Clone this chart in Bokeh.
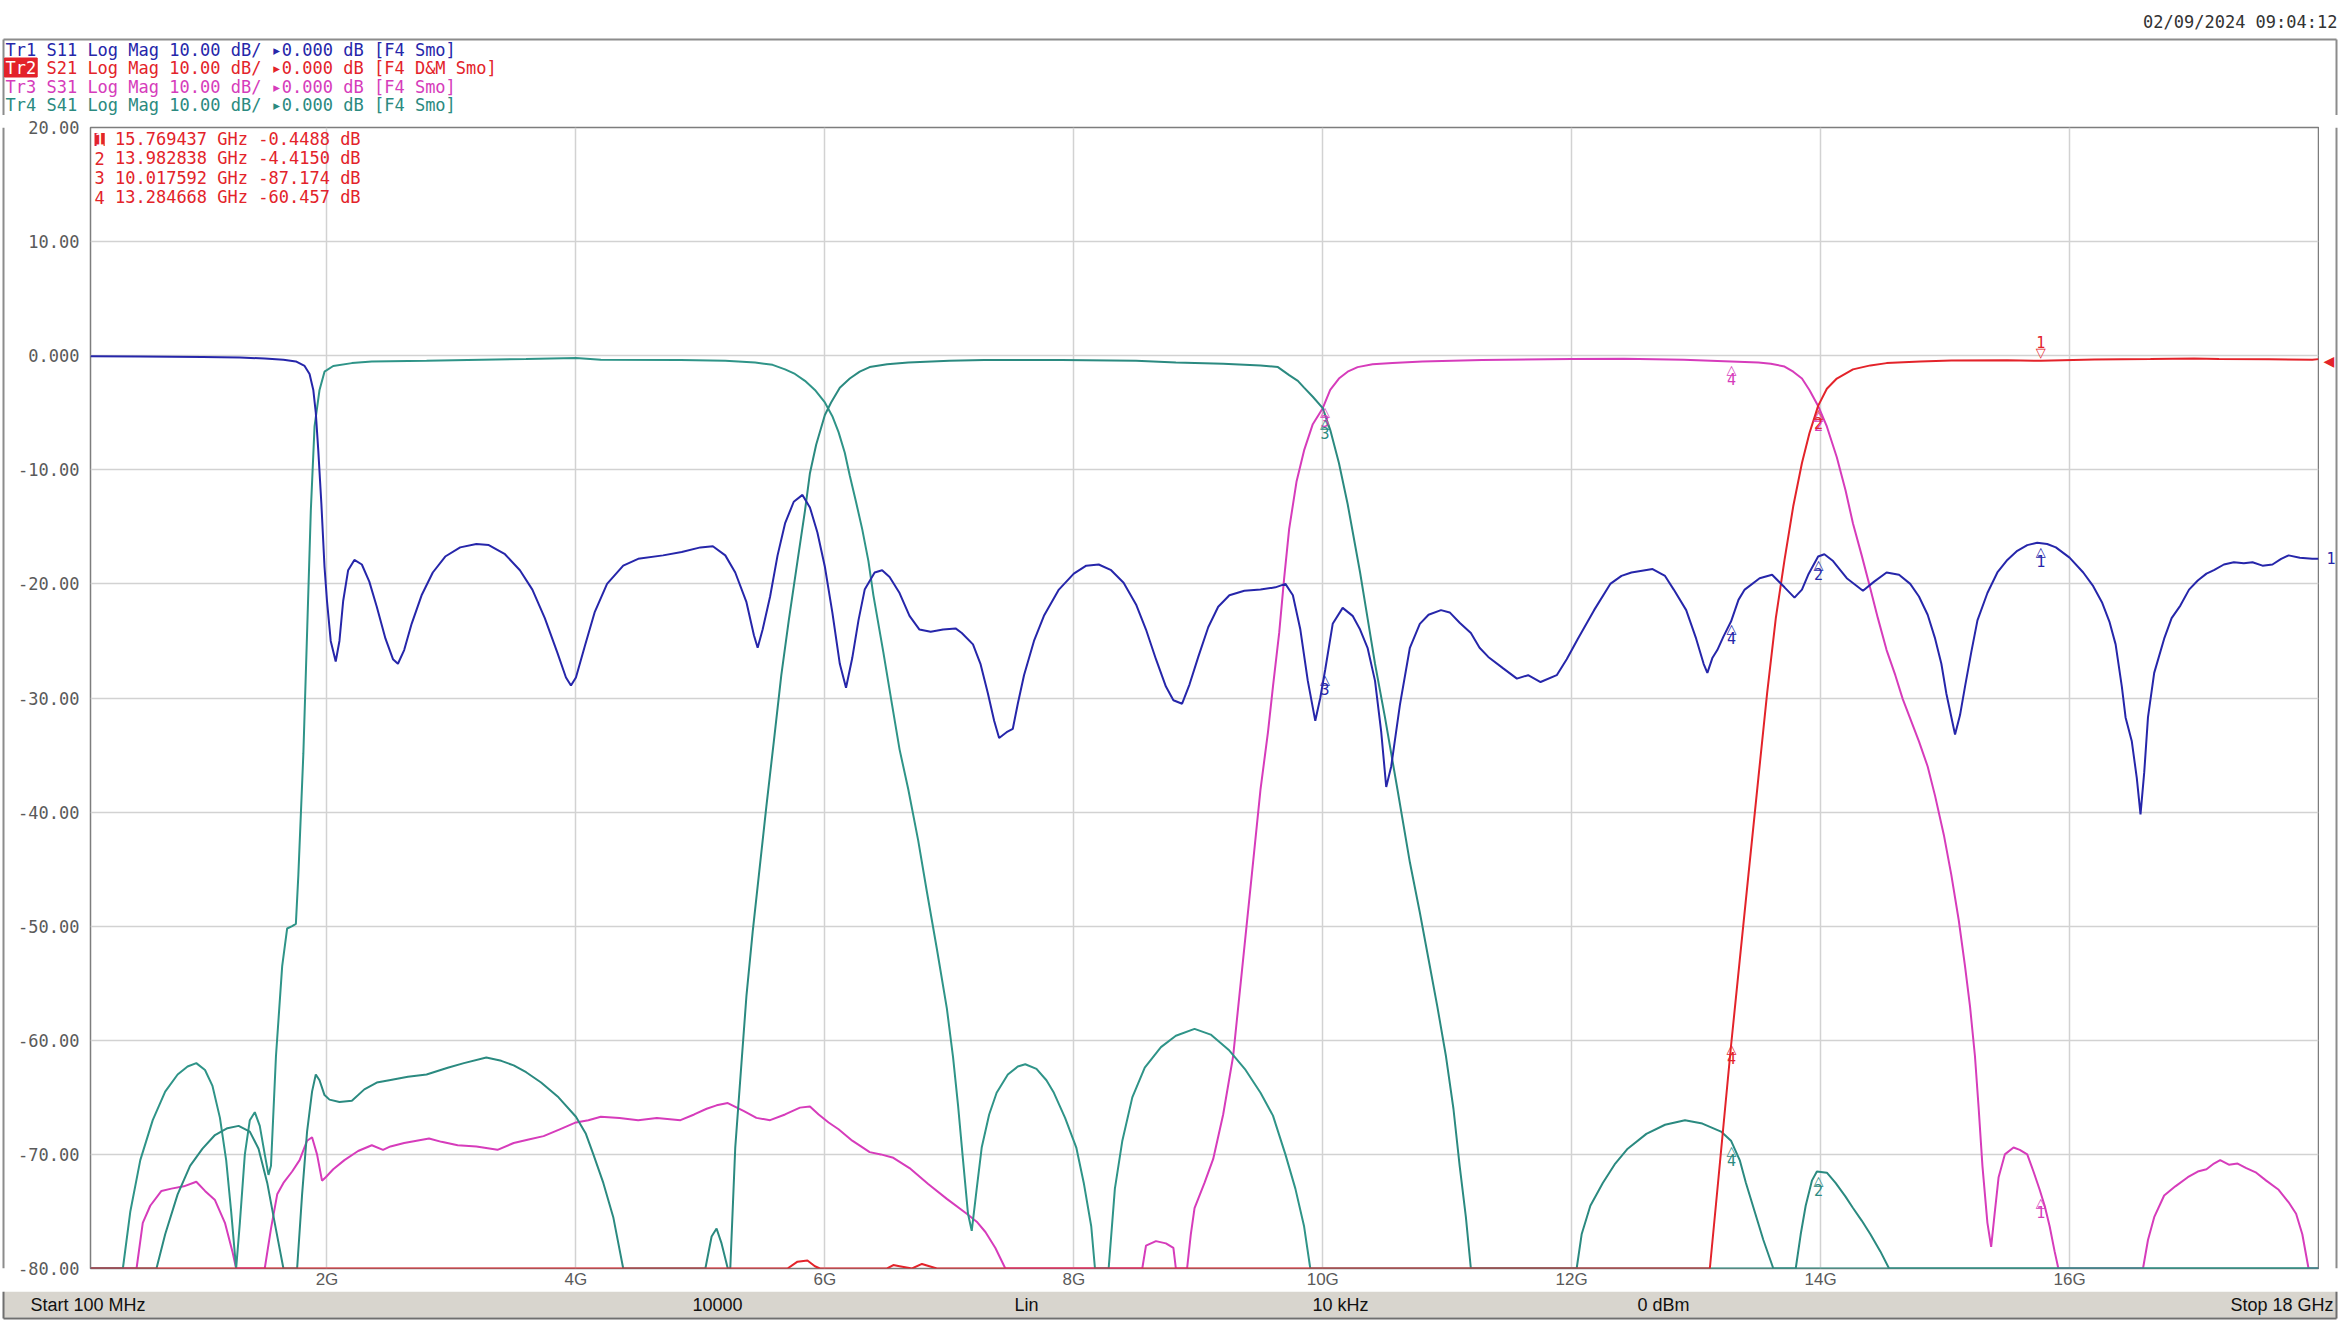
import numpy as np
from bokeh.plotting import figure
from bokeh.layouts import column, row
from bokeh.models import Label, FixedTicker, Range1d
from bokeh.core.properties import value
from bokeh.embed import file_html
from bokeh.resources import INLINE

# ---------------- data (GHz, dB) ----------------
S11 = [(0.10,-0.05),(0.50,-0.08),(1.00,-0.12),(1.30,-0.15),(1.50,-0.25),(1.65,-0.35),(1.75,-0.5),(1.82,-0.9),
       (1.86,-1.6),(1.89,-3.0),(1.91,-5.0),(1.93,-8.3),(1.955,-13.0),(1.98,-18.5),(2.00,-21.5),(2.03,-25.0),
       (2.07,-26.8),(2.10,-25.0),(2.13,-21.5),(2.17,-18.8),(2.22,-17.9),(2.28,-18.3),(2.34,-19.8),(2.40,-22.0),
       (2.47,-24.8),(2.53,-26.6),(2.57,-27.0),(2.62,-25.8),(2.68,-23.5),(2.76,-21.0),(2.85,-19.0),(2.95,-17.6),
       (3.07,-16.8),(3.20,-16.5),(3.30,-16.6),(3.43,-17.4),(3.55,-18.8),(3.65,-20.5),(3.75,-23.0),(3.85,-26.0),
       (3.92,-28.2),(3.96,-28.9),(4.00,-28.2),(4.07,-25.5),(4.15,-22.5),(4.25,-20.0),(4.38,-18.4),(4.50,-17.8),
       (4.70,-17.5),(4.85,-17.2),(5.00,-16.8),(5.10,-16.7),(5.20,-17.5),(5.28,-19.0),(5.37,-21.6),(5.43,-24.5),
       (5.46,-25.6),(5.50,-24.0),(5.56,-21.1),(5.62,-17.5),(5.68,-14.7),(5.75,-12.8),(5.82,-12.2),(5.88,-13.3),
       (5.94,-15.5),(6.00,-18.5),(6.06,-22.5),(6.12,-27.0),(6.17,-29.1),(6.22,-26.5),(6.27,-23.2),(6.32,-20.5),
       (6.40,-19.0),(6.46,-18.8),(6.52,-19.4),(6.60,-20.8),(6.68,-22.8),(6.76,-24.0),(6.85,-24.2),(6.95,-24.0),
       (7.05,-23.9),(7.10,-24.3),(7.19,-25.3),(7.25,-27.0),(7.31,-29.6),(7.36,-32.0),(7.40,-33.5),(7.46,-33.0),
       (7.51,-32.7),(7.55,-30.5),(7.60,-28.0),(7.68,-25.0),(7.76,-22.8),(7.88,-20.5),(8.00,-19.1),(8.10,-18.4),
       (8.20,-18.3),(8.30,-18.8),(8.40,-19.9),(8.50,-21.8),(8.58,-24.0),(8.66,-26.6),(8.74,-29.0),(8.80,-30.2),
       (8.87,-30.5),(8.93,-28.8),(9.00,-26.4),(9.08,-23.8),(9.16,-22.0),(9.25,-21.0),(9.37,-20.6),(9.50,-20.5),
       (9.62,-20.3),(9.70,-20.0),(9.76,-21.0),(9.82,-24.0),(9.88,-28.5),(9.94,-32.0),(9.98,-30.0),(10.02,-27.5),
       (10.08,-23.5),(10.16,-22.1),(10.24,-22.8),(10.30,-24.0),(10.36,-25.6),(10.42,-28.5),(10.47,-33.0),
       (10.51,-37.8),(10.55,-36.0),(10.62,-30.6),(10.70,-25.6),(10.78,-23.5),(10.85,-22.7),(10.95,-22.3),
       (11.02,-22.5),(11.10,-23.4),(11.19,-24.3),(11.26,-25.6),(11.33,-26.4),(11.45,-27.4),(11.56,-28.3),
       (11.65,-28.0),(11.75,-28.6),(11.88,-28.0),(11.96,-26.6),(12.05,-24.8),(12.18,-22.3),(12.31,-20.0),
       (12.40,-19.3),(12.48,-19.0),(12.65,-18.7),(12.75,-19.3),(12.82,-20.5),(12.92,-22.3),(13.00,-24.8),
       (13.06,-27.0),(13.09,-27.8),(13.13,-26.5),(13.17,-25.8),(13.22,-24.6),(13.28,-23.3),(13.34,-21.4),
       (13.39,-20.5),(13.51,-19.5),(13.61,-19.2),(13.71,-20.3),(13.79,-21.2),(13.85,-20.5),(13.90,-19.2),
       (13.98,-17.6),(14.03,-17.4),(14.10,-18.0),(14.21,-19.5),(14.34,-20.6),(14.43,-19.8),(14.53,-19.0),
       (14.63,-19.2),(14.72,-20.0),(14.79,-21.1),(14.86,-22.7),(14.92,-24.8),(14.97,-27.0),(15.01,-29.6),
       (15.08,-33.2),(15.12,-31.5),(15.16,-29.0),(15.21,-26.0),(15.26,-23.2),(15.34,-20.8),(15.42,-19.0),
       (15.50,-17.9),(15.58,-17.1),(15.66,-16.6),(15.74,-16.4),(15.82,-16.5),(15.89,-16.8),(16.00,-17.7),
       (16.11,-19.0),(16.19,-20.2),(16.26,-21.6),(16.32,-23.3),(16.37,-25.3),(16.42,-29.0),(16.45,-31.7),
       (16.50,-33.8),(16.54,-37.0),(16.57,-40.2),(16.60,-36.5),(16.63,-31.7),(16.68,-27.8),(16.76,-24.8),
       (16.82,-23.0),(16.89,-21.9),(16.96,-20.5),(17.03,-19.7),(17.10,-19.1),(17.16,-18.8),(17.24,-18.3),
       (17.32,-18.1),(17.40,-18.2),(17.47,-18.1),(17.55,-18.4),(17.63,-18.3),(17.70,-17.8),(17.76,-17.5),
       (17.85,-17.7),(17.95,-17.8),(18.00,-17.8)]

S21 = [(0.10,-80),(5.70,-80),(5.78,-79.4),(5.86,-79.3),(5.92,-79.8),(5.96,-80),(6.50,-80),(6.55,-79.7),
       (6.60,-79.8),(6.70,-80),(6.78,-79.6),(6.84,-79.8),(6.90,-80),(13.11,-80),(13.18,-72.0),(13.28,-60.5),
       (13.35,-53.0),(13.42,-45.5),(13.50,-37.0),(13.57,-29.6),(13.64,-23.0),(13.71,-17.9),(13.78,-13.2),
       (13.85,-9.4),(13.91,-6.8),(13.98,-4.4),(14.05,-2.9),(14.13,-2.0),(14.26,-1.2),(14.40,-0.85),
       (14.53,-0.65),(14.80,-0.5),(15.05,-0.42),(15.50,-0.4),(15.77,-0.45),(16.20,-0.33),(16.65,-0.3),
       (17.00,-0.25),(17.20,-0.3),(17.60,-0.32),(17.95,-0.35),(18.00,-0.3)]

S31 = [(0.10,-80),(0.47,-80),(0.52,-76.0),(0.58,-74.5),(0.67,-73.2),(0.75,-73.0),(0.85,-72.8),(0.95,-72.4),
       (1.02,-73.2),(1.10,-74.0),(1.18,-76.0),(1.24,-78.5),(1.27,-80),(1.50,-80),(1.55,-76.5),(1.60,-73.5),
       (1.65,-72.5),(1.72,-71.5),(1.78,-70.5),(1.84,-68.8),(1.88,-68.5),(1.92,-70.0),(1.96,-72.3),(1.99,-72.0),
       (2.05,-71.3),(2.14,-70.5),(2.25,-69.7),(2.36,-69.2),(2.45,-69.6),(2.51,-69.3),(2.62,-69.0),(2.72,-68.8),
       (2.82,-68.6),(2.92,-68.9),(3.05,-69.2),(3.20,-69.3),(3.37,-69.6),(3.50,-69.0),(3.62,-68.7),(3.74,-68.4),
       (3.87,-67.8),(4.00,-67.2),(4.10,-67.0),(4.20,-66.7),(4.35,-66.8),(4.50,-67.0),(4.65,-66.8),(4.84,-67.0),
       (4.95,-66.5),(5.05,-66.0),(5.13,-65.7),(5.22,-65.5),(5.35,-66.2),(5.45,-66.8),(5.56,-67.0),(5.68,-66.5),
       (5.80,-65.9),(5.88,-65.8),(5.95,-66.5),(6.03,-67.2),(6.11,-67.8),(6.22,-68.8),(6.36,-69.8),(6.45,-70.0),
       (6.55,-70.3),(6.68,-71.2),(6.83,-72.6),(6.98,-73.9),(7.14,-75.2),(7.22,-75.9),(7.29,-76.8),(7.37,-78.2),
       (7.45,-80),(8.55,-80),(8.58,-78.0),(8.66,-77.6),(8.74,-77.8),(8.80,-78.2),(8.82,-80),(8.91,-80),
       (8.94,-77.0),(8.97,-74.7),(9.05,-72.5),(9.12,-70.4),(9.20,-66.5),(9.28,-61.4),(9.35,-54.0),(9.43,-45.5),
       (9.50,-38.0),(9.56,-33.0),(9.60,-29.0),(9.65,-24.3),(9.69,-19.5),(9.73,-15.2),(9.79,-11.0),(9.85,-8.3),
       (9.92,-6.0),(10.00,-4.6),(10.06,-3.0),(10.13,-2.0),(10.20,-1.4),(10.28,-1.0),(10.40,-0.75),(10.56,-0.64),
       (10.80,-0.5),(11.28,-0.37),(12.00,-0.3),(12.42,-0.27),(12.90,-0.35),(13.28,-0.5),(13.50,-0.6),
       (13.60,-0.7),(13.71,-0.95),(13.78,-1.4),(13.85,-2.0),(13.91,-3.0),(13.98,-4.4),(14.05,-6.2),(14.13,-8.9),
       (14.20,-11.8),(14.26,-14.7),(14.33,-17.5),(14.39,-20.0),(14.46,-23.0),(14.53,-25.8),(14.60,-28.0),
       (14.66,-30.1),(14.72,-31.8),(14.79,-33.8),(14.86,-36.0),(14.92,-38.6),(14.99,-42.0),(15.05,-45.5),
       (15.11,-49.5),(15.16,-53.5),(15.20,-57.0),(15.24,-61.4),(15.27,-66.0),(15.30,-71.0),(15.34,-76.0),
       (15.37,-78.1),(15.40,-75.0),(15.43,-72.0),(15.48,-70.0),(15.55,-69.4),(15.60,-69.6),(15.66,-70.0),
       (15.71,-71.5),(15.76,-73.1),(15.80,-74.5),(15.84,-76.3),(15.88,-78.5),(15.91,-80),(16.59,-80),
       (16.63,-77.5),(16.68,-75.5),(16.76,-73.6),(16.85,-72.8),(16.95,-72.0),(17.03,-71.5),(17.10,-71.3),
       (17.16,-70.8),(17.21,-70.5),(17.28,-70.9),(17.35,-70.8),(17.42,-71.2),(17.50,-71.6),(17.58,-72.3),
       (17.68,-73.1),(17.76,-74.2),(17.82,-75.2),(17.87,-77.0),(17.92,-80),(18.00,-80)]

# Tr4 S41 (6-10 GHz channel)
S41 = [(0.10,-80),(0.63,-80),(0.70,-77.0),(0.80,-73.5),(0.90,-71.0),(1.00,-69.5),(1.10,-68.3),(1.20,-67.7),
       (1.29,-67.5),(1.38,-68.0),(1.45,-69.5),(1.52,-72.5),(1.58,-76.0),(1.65,-80),(1.76,-80),(1.80,-73.5),
       (1.84,-68.0),(1.88,-64.5),(1.91,-63.0),(1.94,-63.5),(1.98,-64.8),(2.02,-65.2),(2.10,-65.4),(2.20,-65.3),
       (2.30,-64.3),(2.40,-63.7),(2.50,-63.5),(2.65,-63.2),(2.80,-63.0),(2.97,-62.4),(3.10,-62.0),(3.28,-61.5),
       (3.40,-61.8),(3.50,-62.2),(3.60,-62.8),(3.72,-63.7),(3.86,-65.0),(4.00,-66.7),(4.08,-68.2),(4.14,-70.0),
       (4.22,-72.5),(4.30,-75.5),(4.38,-80),(5.04,-80),(5.09,-77.2),(5.13,-76.5),(5.17,-77.8),(5.22,-80),
       (5.24,-80),(5.28,-69.4),(5.33,-62.0),(5.37,-56.1),(5.42,-50.5),(5.47,-45.5),(5.53,-39.5),(5.59,-33.8),
       (5.65,-28.0),(5.71,-23.2),(5.78,-18.0),(5.84,-13.6),(5.88,-10.3),(5.93,-7.8),(6.00,-5.2),(6.05,-4.1),
       (6.12,-2.8),(6.20,-2.0),(6.28,-1.4),(6.36,-1.0),(6.50,-0.75),(6.67,-0.6),(7.00,-0.45),(7.28,-0.37),
       (7.90,-0.37),(8.50,-0.45),(8.82,-0.6),(9.20,-0.7),(9.50,-0.85),(9.64,-1.0),(9.73,-1.7),(9.80,-2.2),
       (9.85,-2.8),(9.92,-3.6),(10.00,-4.6),(10.06,-6.5),(10.13,-9.4),(10.20,-13.0),(10.25,-16.0),(10.30,-19.0),
       (10.36,-23.0),(10.42,-27.0),(10.50,-31.7),(10.60,-38.0),(10.70,-44.4),(10.78,-48.8),(10.85,-52.9),
       (10.92,-57.0),(10.99,-61.4),(11.05,-66.0),(11.10,-71.0),(11.15,-75.5),(11.19,-80),(12.04,-80),
       (12.08,-77.0),(12.15,-74.5),(12.25,-72.5),(12.35,-70.8),(12.45,-69.5),(12.60,-68.2),(12.75,-67.4),
       (12.91,-67.0),(13.05,-67.3),(13.20,-68.0),(13.28,-68.8),(13.35,-70.5),(13.40,-72.5),(13.47,-75.0),
       (13.54,-77.5),(13.62,-80),(13.80,-80),(13.84,-77.0),(13.88,-74.5),(13.93,-72.3),(13.97,-71.5),
       (14.05,-71.6),(14.12,-72.5),(14.20,-73.7),(14.26,-74.7),(14.33,-75.8),(14.40,-77.0),(14.48,-78.5),
       (14.55,-80),(18.00,-80)]

# second teal trace (2-6 GHz channel)
S_LOW = [(0.10,-80),(0.36,-80),(0.42,-75.0),(0.50,-70.5),(0.60,-67.0),(0.70,-64.5),(0.80,-63.0),(0.88,-62.3),
         (0.95,-62.0),(1.02,-62.6),(1.08,-64.0),(1.14,-66.8),(1.19,-70.5),(1.23,-75.0),(1.27,-80),(1.30,-76.0),
         (1.34,-70.0),(1.38,-67.0),(1.42,-66.3),(1.46,-67.5),(1.50,-70.0),(1.53,-71.8),(1.55,-71.0),(1.59,-61.4),
         (1.64,-53.5),(1.68,-50.2),(1.72,-50.0),(1.75,-49.8),(1.77,-45.5),(1.81,-34.9),(1.84,-24.3),(1.87,-13.6),
         (1.90,-6.2),(1.94,-3.0),(1.98,-1.4),(2.05,-0.9),(2.20,-0.65),(2.36,-0.5),(2.80,-0.45),(3.13,-0.37),
         (3.60,-0.3),(4.00,-0.2),(4.20,-0.35),(4.84,-0.37),(5.20,-0.45),(5.44,-0.6),(5.58,-0.8),(5.68,-1.2),
         (5.76,-1.6),(5.84,-2.2),(5.92,-3.0),(6.00,-4.1),(6.06,-5.3),(6.11,-6.7),(6.16,-8.5),(6.20,-10.5),
         (6.25,-12.8),(6.30,-15.2),(6.35,-18.0),(6.39,-21.0),(6.47,-26.0),(6.54,-30.6),(6.60,-34.5),(6.67,-38.0),
         (6.75,-42.5),(6.82,-47.0),(6.90,-52.0),(6.98,-57.2),(7.03,-61.5),(7.07,-65.7),(7.11,-70.5),(7.15,-75.2),
         (7.18,-76.7),(7.22,-73.0),(7.26,-69.4),(7.32,-66.5),(7.38,-64.6),(7.47,-63.0),(7.55,-62.3),(7.61,-62.1),
         (7.70,-62.5),(7.78,-63.5),(7.84,-64.6),(7.93,-66.8),(8.02,-69.4),(8.08,-72.5),(8.14,-76.3),(8.17,-80),
         (8.28,-80),(8.33,-73.0),(8.39,-68.8),(8.47,-65.0),(8.57,-62.4),(8.70,-60.6),(8.82,-59.6),(8.97,-59.0),
         (9.10,-59.5),(9.25,-60.9),(9.38,-62.6),(9.50,-64.6),(9.60,-66.6),(9.70,-70.0),(9.78,-73.0),(9.85,-76.3),
         (9.90,-80),(18.00,-80)]

marker_ids = ["1", "2", "3", "4"]
marker_ghz = [15.769437, 13.982838, 10.017592, 13.284668]
marker_s21_db = [-0.4488, -4.4150, -87.174, -60.457]

x_ticks = [2, 4, 6, 8, 10, 12, 14, 16]
y_ticks = [20, 10, 0, -10, -20, -30, -40, -50, -60, -70, -80]

header_tags = ["Tr1", "Tr2", "Tr3", "Tr4"]
header_text = ["S11 Log Mag 10.00 dB/ \u25b80.000 dB [F4 Smo]",
               "S21 Log Mag 10.00 dB/ \u25b80.000 dB [F4 D&M Smo]",
               "S31 Log Mag 10.00 dB/ \u25b80.000 dB [F4 Smo]",
               "S41 Log Mag 10.00 dB/ \u25b80.000 dB [F4 Smo]"]
status_items = ["Start 100 MHz", "10000", "Lin", "10 kHz", "0 dBm", "Stop 18 GHz"]
date_text = "02/09/2024 09:04:12"

# ---------------- styling / layout ----------------
C_S11, C_S21, C_S31 = "#2626aa", "#e3232a", "#d63cbb"
C_S41, C_LOW = "#2b8a80", "#2f9488"
C_FRAME = "#8c8c8c"
MONO = "DejaVu Sans Mono"
SANS = "Liberation Sans"
CW = 17 * 0.602          # mono character advance at 17px

W, H = 2339, 1327
HEAD_H, STAT_H = 115, 36
MID_H = H - HEAD_H - STAT_H          # 1176
LEFT_W, RIGHT_W = 8, 20
MAIN_W = W - LEFT_W - RIGHT_W        # 2311
MB_L, MB_R, MB_T, MB_B = 82, 1, 12, 22
F0, F1 = 0.1, 18.0
Y0, Y1 = -80.0, 20.0
PXD = (MID_H - MB_T - MB_B) / (Y1 - Y0)   # pixels per dB


def pixel_fig(w, h, y_range=None):
    f = figure(width=w, height=h, x_range=Range1d(0, w),
               y_range=y_range if y_range is not None else Range1d(h, 0),
               output_backend="svg", toolbar_location=None,
               x_axis_type=None, y_axis_type=None, min_border=0)
    f.outline_line_color = None
    f.background_fill_color = "white"
    f.border_fill_color = "white"
    return f


# ---------------- header ----------------
head = pixel_fig(W, HEAD_H)
head.text([2337], [21], text=[date_text], text_align="right", text_baseline="middle",
          text_font=value(MONO), text_font_size="17px", text_color="#333333")
head.segment([3, 3, 2336], [39, 39, 39], [2336, 3, 2336], [39, HEAD_H, HEAD_H], line_color=C_FRAME, line_width=2)
row_cols = [C_S11, C_S21, C_S31, C_S41]
row_y = [49, 67.5, 86, 104.5]
X0 = 5
head.quad(left=[X0 - 1], right=[X0 + 3 * CW + 1], top=[row_y[1] - 10], bottom=[row_y[1] + 9], color=C_S21)
tag_cols = ["white" if t == "Tr2" else c for t, c in zip(header_tags, row_cols)]
head.text([X0] * 4, row_y, text=header_tags, text_color=tag_cols, text_align="left", text_baseline="middle",
          text_font=value(MONO), text_font_size="17px")
head.text([X0 + 4 * CW] * 4, row_y, text=header_text, text_color=row_cols, text_align="left",
          text_baseline="middle", text_font=value(MONO), text_font_size="17px")

# ---------------- main plot ----------------
p = figure(width=MAIN_W, height=MID_H, x_range=Range1d(F0, F1), y_range=Range1d(Y0, Y1),
           output_backend="svg", toolbar_location=None,
           min_border_left=MB_L, min_border_right=MB_R, min_border_top=MB_T, min_border_bottom=MB_B)
p.background_fill_color = "white"
p.border_fill_color = "white"
p.outline_line_color = "#7d7d7d"
p.outline_line_width = 1.5

p.xgrid.ticker = FixedTicker(ticks=x_ticks)
p.ygrid.ticker = FixedTicker(ticks=y_ticks)
for g in (p.xgrid[0], p.ygrid[0]):
    g.grid_line_color = "#d2d2d2"
    g.grid_line_width = 1.5

p.xaxis.ticker = FixedTicker(ticks=x_ticks)
p.xaxis.major_label_overrides = {t: f"{t}G" for t in x_ticks}
p.yaxis.ticker = FixedTicker(ticks=y_ticks)
p.yaxis.major_label_overrides = {t: ("0.000" if t == 0 else f"{t:.2f}") for t in y_ticks}
for ax in (p.xaxis[0], p.yaxis[0]):
    ax.axis_line_color = None
    ax.major_tick_line_color = None
    ax.minor_tick_line_color = None
    ax.major_tick_out = 0
    ax.major_label_text_color = "#5a5a5a"
p.xaxis.major_label_text_font = SANS
p.xaxis.major_label_text_font_size = "17px"
p.xaxis.major_label_standoff = 1
p.yaxis.major_label_text_font = MONO
p.yaxis.major_label_text_font_size = "17px"
p.yaxis.major_label_standoff = 11

traces = [(S31, C_S31), (S_LOW, C_LOW), (S41, C_S41), (S21, C_S21), (S11, C_S11)]
for data, col in traces:
    fd, dd = zip(*data)
    p.line(list(fd), list(dd), line_color=col, line_width=2)


def draw_markers(data, col, active=None):
    fd, dd = zip(*data)
    vals = np.interp(marker_ghz, fd, dd)
    # markers whose reading is below the bottom of the grid are not drawn on the trace
    keep = [(f, v, i) for f, v, i in zip(marker_ghz, vals, marker_ids) if i != active and v > Y0]
    if keep:
        bx, by, bl = (list(t) for t in zip(*keep))
        p.text(bx, by, text=["\u25b3"] * len(bx), text_color=col, text_align="center", text_baseline="top",
               text_font=value("DejaVu Sans"), text_font_size="13px", y_offset=1)
        p.text(bx, by, text=bl, text_color=col, text_align="center", text_baseline="top",
               text_font=value(MONO), text_font_size="15px", y_offset=12)
    if active is not None:
        k = marker_ids.index(active)
        p.text([marker_ghz[k]], [vals[k]], text=["\u25bd"], text_color=col, text_align="center",
               text_baseline="bottom", text_font=value("DejaVu Sans"), text_font_size="13px", y_offset=-1)
        p.text([marker_ghz[k]], [vals[k]], text=[active], text_color=col, text_align="center",
               text_baseline="bottom", text_font=value(MONO), text_font_size="15px", y_offset=-13)


draw_markers(S11, C_S11)
draw_markers(S31, C_S31)
draw_markers(S41, C_S41)
draw_markers(S21, C_S21, active="1")

# marker table (inside the grid)
def fx(px):
    return F0 + (px - MB_L) * (F1 - F0) / (MAIN_W - MB_R - MB_L)
def fy(py):
    return Y1 - (py - MB_T) / PXD

tab_y = [139 - HEAD_H, 158 - HEAD_H, 177.5 - HEAD_H, 197 - HEAD_H]
TX = 94 - LEFT_W
for i, f, v, ry in zip(marker_ids, marker_ghz, marker_s21_db, tab_y):
    vt = f"{v:.4f}" if abs(v) < 10 else f"{v:.3f}"
    if i == "1":
        p.add_layout(Label(x=fx(TX), y=fy(ry), text=i, text_color="white", background_fill_color=C_S21,
                           text_align="left", text_baseline="middle", text_font=MONO, text_font_size="17px"))
    else:
        p.add_layout(Label(x=fx(TX), y=fy(ry), text=i, text_color=C_S21, text_align="left",
                           text_baseline="middle", text_font=MONO, text_font_size="17px"))
    p.add_layout(Label(x=fx(TX + 2 * CW), y=fy(ry), text=f"{f:.6f} GHz {vt} dB", text_color=C_S21,
                       text_align="left", text_baseline="middle", text_font=MONO, text_font_size="17px"))

# ---------------- side strips ----------------
left = pixel_fig(LEFT_W, MID_H)
left.segment([3], [0], [3], [MID_H], line_color=C_FRAME, line_width=2)

right_range = Range1d(Y0 - MB_B / PXD, Y1 + MB_T / PXD)
right = pixel_fig(RIGHT_W, MID_H, y_range=right_range)
right.segment([17], [right_range.start], [17], [right_range.end], line_color=C_FRAME, line_width=2)
right.text([4], [0], text=["\u25c0"], text_color=C_S21, text_align="left", text_baseline="middle",
           text_font=value("DejaVu Sans"), text_font_size="14px")
right.text([7], [S11[-1][1]], text=["1"], text_color=C_S11, text_align="left", text_baseline="middle",
           text_font=value(MONO), text_font_size="15px")

# ---------------- status bar ----------------
stat = pixel_fig(W, STAT_H)
stat.quad(left=[3], right=[2336], top=[0], bottom=[26], fill_color="#d8d5ce", line_color=None)
stat.segment([3, 3, 2336], [0, 27, 0], [3, 2336, 2336], [27, 27, 27], line_color="#6f6f6f", line_width=2)
status_x = [30, 717, 1026, 1340, 1663, 2333]
status_align = ["left", "center", "center", "center", "center", "right"]
stat.text(status_x, [13] * 6, text=status_items, text_align=status_align, text_baseline="middle",
          text_color="#111111", text_font=value(SANS), text_font_size="18px")

layout = column(head, row(left, p, right, spacing=0), stat, spacing=0)
open("out.html", "w").write(file_html(layout, INLINE))
